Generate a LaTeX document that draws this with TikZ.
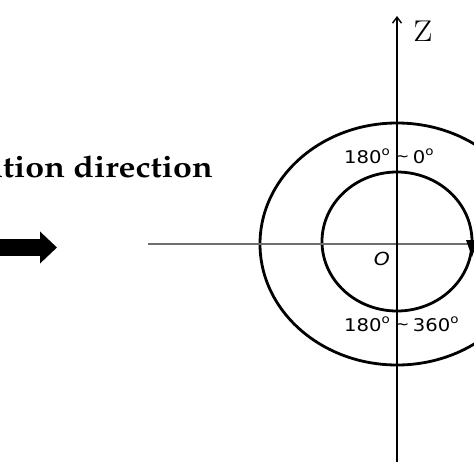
\documentclass[tikz,border=0pt]{standalone}
\usepackage[T1,TU]{fontenc}
\usepackage{fontspec}
\newfontfamily\labfont{DejaVu Sans}
\usetikzlibrary{arrows.meta}
\newcommand\degsym{\raisebox{0.42em}{\fontsize{12}{12}\selectfont o}}
\newcommand\tld{\hspace{5pt}\raisebox{0.08em}{\fontsize{15}{15}\selectfont\textasciitilde}\hspace{3pt}}
\begin{document}
\begin{tikzpicture}[x=1pt,y=-1pt,
  ring/.style={line width=2.8pt,black},
  vaxis/.style={line width=1.4pt,black},
  haxis/.style={line width=2pt,color={rgb,255:red,110;green,110;blue,110}},
  bigarrow/.style={line width=17pt,black,-{Triangle[length=17pt,width=31pt]}},
  deglbl/.style={anchor=base west,inner sep=0pt,font=\labfont\fontsize{17.5}{20}\selectfont},
  title/.style={anchor=base east,inner sep=0pt}]
\useasboundingbox (0,0) rectangle (474,474);
\coordinate (O) at (397,244);
\coordinate (hl) at (148,244);
\coordinate (hr) at (474,244);
\coordinate (vb) at (397,462);
\coordinate (vt) at (397,16);
\coordinate (ba) at (0,247.5);
\coordinate (bb) at (57,247.5);
\draw[ring] (O) ellipse [x radius=137, y radius=121];
\draw[ring] (397,241.5) ellipse [x radius=75, y radius=69.5];
\draw[haxis] (hl) -- (hr);
\draw[vaxis,-{Straight Barb[length=6pt,width=9pt]}] (vb) -- (vt);
\fill[black] (466,240) -- (478,240) -- (472,257) -- cycle;
\draw[bigarrow] (ba) -- (bb);
\node[title] (rot) at (213,177) {\scalebox{1.13}[1]{\fontencoding{T1}\fontfamily{ppl}\fontseries{b}\fontsize{30}{36}\selectfont Rotation direction}};
\node[inner sep=0pt] (z) at (423,31) {\scalebox{1.13}[1]{\fontsize{30}{36}\selectfont Z}};
\node[deglbl] (top) at (344,163) {\scalebox{1.12}[1]{180\degsym\tld 0\degsym}};
\node[deglbl] (bot) at (344,331) {\scalebox{1.12}[1]{180\degsym\tld 360\degsym}};
\node[inner sep=0pt,font=\labfont\itshape\fontsize{18}{20}\selectfont] (o) at (382,259) {\scalebox{1.13}[1]{O}};
\end{tikzpicture}
\end{document}
